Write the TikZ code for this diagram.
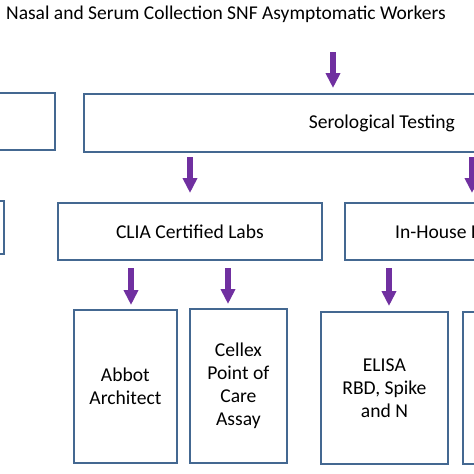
\documentclass[tikz,border=0pt]{standalone}
\usepackage{fontspec}
\setmainfont{Carlito}
\usepackage{tikz}
\usetikzlibrary{arrows.meta, positioning}
\definecolor{boxblue}{RGB}{68,104,145}
\definecolor{arrowpurple}{RGB}{112,48,160}

\begin{document}
\begin{tikzpicture}[x=1pt, y=-1pt]
\tikzset{stepbox/.style={
    draw=boxblue, line width=1.8pt, fill=white,
    anchor=north west, inner sep=0pt,
    align=center, font=\fontsize{19.6}{23}\selectfont
  },
  arr/.style={
    draw=arrowpurple, line width=5.8pt,
    -{Triangle[width=14pt, length=15pt]},
    shorten >=5pt
  }
}

\useasboundingbox (0,0) rectangle (474,474);
\clip (0,0) rectangle (474,474);

\node[font=\fontsize{19.5}{22}\selectfont] (title) at (226,14) {Nasal and Serum Collection SNF Asymptomatic Workers};

% second row
\node[stepbox, minimum width=200pt, minimum height=57pt] (nasal) at (-146,92) {};
\node[stepbox, minimum width=596pt, minimum height=58pt] (ser) at (83,93) {Serological Testing};

% third row
\node[stepbox, minimum width=100pt, minimum height=53pt] (pcr) at (-97,200) {};
\node[stepbox, minimum width=264pt, minimum height=57pt] (clia) at (57,202) {CLIA Certified Labs};
\node[stepbox, minimum width=212pt, minimum height=57pt] (inhouse) at (344,202) {In-House Labs};

% assays
\node[stepbox, minimum width=103pt, minimum height=153pt] (abbot) at (73,309) {Abbot\\Architect};
\node[stepbox, minimum width=97pt, minimum height=154pt] (cellex) at (189,308) {Cellex\\Point of\\Care\\Assay};
\node[stepbox, minimum width=127pt, minimum height=152pt] (elisa) at (320,311) {ELISA\\RBD, Spike\\and N};
\node[stepbox, minimum width=127pt, minimum height=152pt] (other) at (462,311) {};

% arrows
\coordinate (a1) at (333,52);
\coordinate (a2) at (190,157);
\coordinate (a3) at (472,157);
\coordinate (a4) at (131,268);
\coordinate (a5) at (228,268);
\coordinate (a6) at (389,268);

\draw[arr] (a1) -- (a1 |- ser.north);
\draw[arr, shorten >=9pt] (a2) -- (a2 |- clia.north);
\draw[arr, shorten >=9pt] (a3) -- (a3 |- inhouse.north);
\draw[arr, shorten >=4pt] (a4) -- (a4 |- abbot.north);
\draw[arr, shorten >=4pt] (a5) -- (a5 |- cellex.north);
\draw[arr, shorten >=5pt] (a6) -- (a6 |- elisa.north);

\end{tikzpicture}
\end{document}
